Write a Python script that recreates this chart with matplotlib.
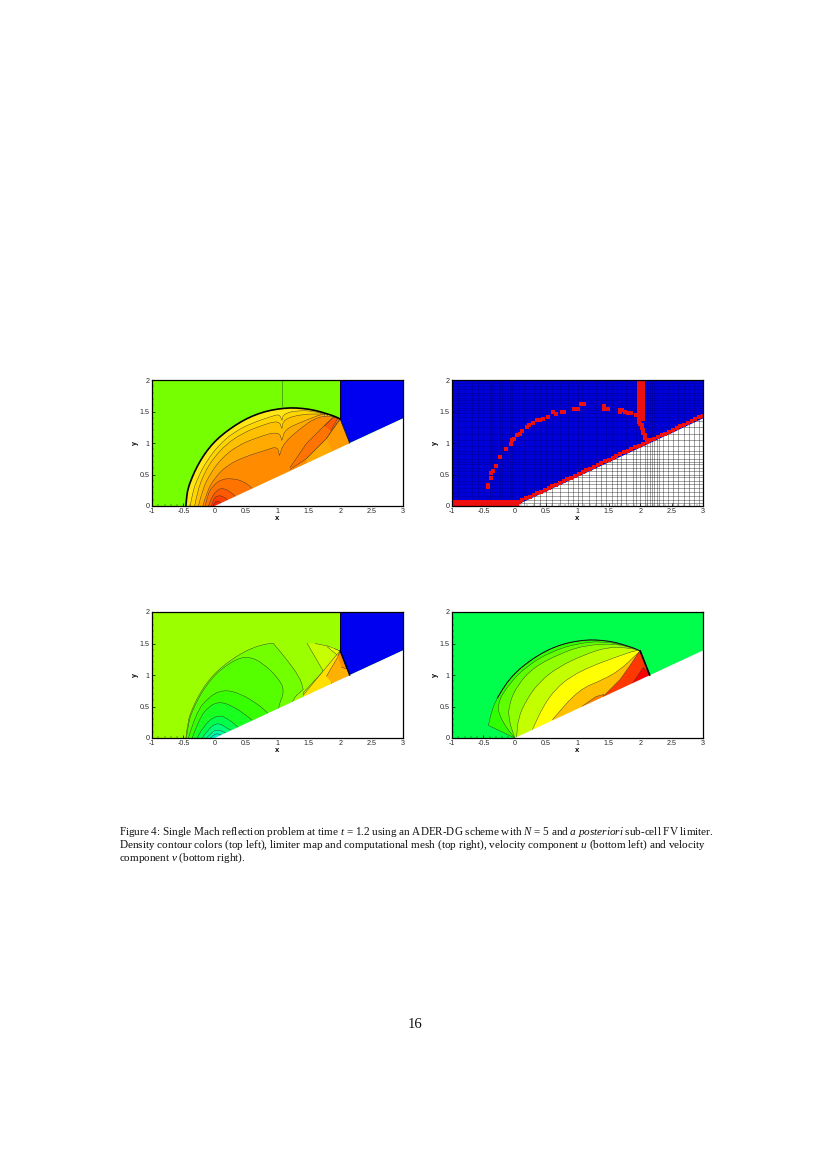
import matplotlib
matplotlib.use('Agg')
import matplotlib.pyplot as plt
from matplotlib.path import Path
from matplotlib.patches import PathPatch, Polygon
import numpy as np

plt.rcParams['font.family'] = ['Liberation Sans', 'DejaVu Sans']
plt.rcParams['mathtext.fontset'] = 'custom'
plt.rcParams['mathtext.rm'] = 'Liberation Serif'
plt.rcParams['mathtext.it'] = 'Liberation Serif:italic'
plt.rcParams['text.hinting'] = 'no_autohint'

W, H = 827, 1169

# shared geometry
shock_x = [-0.46, -0.45, -0.43, -0.36, -0.28, -0.18, -0.06, 0.08, 0.25, 0.42, 0.6, 0.8, 1.0, 1.2, 1.4, 1.6, 1.8, 1.92, 2.0, 2.0]
shock_y = [0.0, 0.12, 0.27, 0.46, 0.63, 0.8, 0.96, 1.1, 1.23, 1.34, 1.43, 1.5, 1.54, 1.56, 1.55, 1.52, 1.46, 1.42, 1.38, 1.38]
stem_x = [2.0, 2.15]
stem_y = [1.38, 1.0]
wedge_x = [0.0, 3.0, 3.0]
wedge_y = [0.0, 1.39, 0.0]
blue_x = [2.0, 3.0, 3.0, 2.15, 2.0]
blue_y = [2.0, 2.0, 1.39, 1.0, 1.38]

# top left, density: nested contours (x, y, colour)
rho_bg = '#76FF00'
rho_inside = '#FFE617'
rho_bands = [
    ([-0.39, -0.36, -0.27, -0.12, 0.07, 0.3, 0.6, 0.9, 1.03, 1.07, 1.07, 1.1, 1.35, 1.6, 1.8, 1.8, 1.8],
     [0.0, 0.2, 0.45, 0.73, 0.97, 1.17, 1.32, 1.42, 1.46, 1.36, 1.36, 1.47, 1.52, 1.5, 1.44, 1.44, 0.0], '#FFD500'),
    ([-0.32, -0.28, -0.17, -0.02, 0.18, 0.45, 0.75, 1.02, 1.07, 1.07, 1.1, 1.4, 1.7, 1.7, 1.7],
     [0.0, 0.22, 0.52, 0.76, 0.98, 1.16, 1.28, 1.36, 1.23, 1.23, 1.38, 1.46, 1.46, 1.46, 0.0], '#FFC000'),
    ([-0.26, -0.2, -0.08, 0.1, 0.35, 0.65, 1.02, 1.07, 1.07, 1.12, 1.4, 1.65, 1.75, 1.75, 1.75],
     [0.0, 0.25, 0.5, 0.75, 0.95, 1.08, 1.19, 1.04, 1.04, 1.22, 1.34, 1.44, 1.46, 1.46, 0.0], '#FFAA00'),
    ([-0.19, -0.13, 0.0, 0.2, 0.5, 0.8, 1.0, 1.03, 1.03, 1.1, 1.35, 1.6, 1.85, 2.0, 2.0, 2.15, 2.15, 2.15],
     [0.0, 0.22, 0.45, 0.65, 0.79, 0.88, 0.95, 0.8, 0.8, 1.0, 1.22, 1.4, 1.44, 1.38, 1.38, 1.0, 1.0, 0.0], '#FF8C00'),
    ([-0.15, -0.12, -0.02, 0.1, 0.25, 0.45, 0.6, 0.6, 0.6],
     [0.0, 0.18, 0.33, 0.42, 0.44, 0.4, 0.28, 0.28, 0.0], '#FF7300'),
    ([-0.1, -0.06, 0.03, 0.14, 0.28, 0.33, 0.33, 0.33],
     [0.0, 0.12, 0.25, 0.29, 0.2, 0.15, 0.15, 0.0], '#FF5A00'),
    ([-0.05, -0.03, 0.04, 0.14, 0.2, 0.2, 0.2],
     [0.0, 0.1, 0.17, 0.15, 0.1, 0.1, 0.0], '#FF4000'),
    ([-0.03, 0.0, 0.06, 0.1, 0.1, 0.1],
     [0.0, 0.07, 0.08, 0.05, 0.05, 0.0], '#FF2000'),
]
rho_patches = [
    ([1.2, 1.46, 1.78, 1.89, 2.0, 1.78, 1.46, 1.2],
     [0.61, 0.99, 1.31, 1.41, 1.39, 1.07, 0.75, 0.58], '#FF7300'),
    ([1.75, 1.89, 1.96, 1.85],
     [1.27, 1.41, 1.39, 1.2], '#FF5A00'),
    ([1.46, 1.78, 2.0, 2.15, 2.15, 1.46],
     [0.75, 1.07, 1.38, 1.0, 0.6, 0.6], '#FFAA00'),
    ([1.78, 2.0, 2.15, 1.87, 1.87],
     [1.07, 1.38, 1.0, 0.8, 0.87], '#FF9A00'),
]
rho_line_x = [1.07, 1.07]
rho_line_y = [2.0, 1.58]

# bottom left, velocity u
u_bg = '#9BFF00'
u_bands = [
    ([-0.46, -0.43, -0.36, -0.28, -0.18, -0.06, 0.08, 0.25, 0.42, 0.6, 0.8, 0.93, 0.93, 1.12, 1.36, 1.41, 1.41, 1.2, 1.2],
     [0.0, 0.27, 0.46, 0.63, 0.8, 0.96, 1.1, 1.23, 1.34, 1.43, 1.49, 1.505, 1.505, 1.28, 0.96, 0.77, 0.77, 0.585, 0.0], '#72FF00'),
    ([-0.45, -0.42, -0.35, -0.27, -0.17, -0.05, 0.09, 0.26, 0.4, 0.55, 0.75, 1.0, 1.12, 1.0, 1.0],
     [0.0, 0.26, 0.44, 0.61, 0.78, 0.94, 1.08, 1.2, 1.27, 1.29, 1.2, 0.97, 0.75, 0.48, 0.0], '#55FF00'),
    ([-0.42, -0.3, -0.1, 0.13, 0.4, 0.7, 0.85, 0.85, 0.85],
     [0.0, 0.4, 0.65, 0.77, 0.71, 0.53, 0.39, 0.39, 0.0], '#38FF00'),
    ([-0.36, -0.25, -0.1, 0.08, 0.3, 0.5, 0.6, 0.6, 0.6],
     [0.0, 0.3, 0.5, 0.58, 0.5, 0.36, 0.28, 0.28, 0.0], '#18FF20'),
    ([-0.28, -0.18, 0.05, 0.25, 0.37, 0.37, 0.37],
     [0.0, 0.2, 0.38, 0.28, 0.17, 0.17, 0.0], '#00FF48'),
    ([-0.2, -0.1, 0.05, 0.2, 0.27, 0.27, 0.27],
     [0.0, 0.15, 0.25, 0.15, 0.12, 0.12, 0.0], '#00FF78'),
    ([-0.13, -0.05, 0.05, 0.15, 0.18, 0.18, 0.18],
     [0.0, 0.09, 0.14, 0.09, 0.08, 0.08, 0.0], '#00FFA0'),
    ([-0.07, 0.0, 0.08, 0.1, 0.1, 0.1],
     [0.0, 0.07, 0.06, 0.05, 0.05, 0.0], '#00F0C8'),
]
u_patches = [
    ([1.47, 1.73, 1.41, 1.41, 2.15, 2.0, 1.8, 1.6],
     [1.505, 1.06, 0.72, 0.6, 0.6, 1.38, 1.46, 1.5], '#C8FF00'),
    ([1.79, 1.97, 2.0, 1.9],
     [1.45, 1.3, 1.38, 1.42], '#E8FF00'),
    ([1.41, 1.95, 2.0, 2.15, 1.41],
     [0.68, 1.33, 1.38, 1.0, 0.6], '#FFE000'),
    ([1.78, 1.97, 2.0, 2.15, 1.86, 1.86],
     [0.98, 1.3, 1.38, 1.0, 0.8, 0.88], '#FFB000'),
    ([1.96, 2.0, 2.1, 2.02],
     [1.3, 1.38, 1.1, 1.12], '#FF8C00'),
]

# bottom right, velocity v
v_bg = '#00FF4C'
v_bands = [
    ([0.0, 0.0, -0.42, -0.42, -0.36, -0.28, -0.18, -0.06, 0.08, 0.25, 0.42, 0.6, 0.8, 1.0, 1.2, 1.4, 1.6, 1.8, 2.0, 2.0, 2.15, 2.15],
     [0.0, 0.0, 0.2, 0.2, 0.46, 0.63, 0.8, 0.96, 1.1, 1.23, 1.34, 1.43, 1.5, 1.54, 1.56, 1.55, 1.52, 1.46, 1.38, 1.38, 1.0, 0.0], '#30FF00'),
    ([0.0, 0.0, -0.2, -0.29, -0.1, 0.2, 0.6, 1.0, 1.4, 1.8, 2.0, 2.0, 2.15, 2.15],
     [0.0, 0.0, 0.25, 0.53, 0.85, 1.15, 1.38, 1.5, 1.54, 1.46, 1.38, 1.38, 1.0, 0.0], '#60FF00'),
    ([0.0, 0.0, -0.1, -0.09, 0.05, 0.3, 0.7, 1.1, 1.6, 1.9, 2.0, 2.0, 2.15, 2.15],
     [0.0, 0.0, 0.3, 0.55, 0.85, 1.12, 1.33, 1.47, 1.5, 1.42, 1.38, 1.38, 1.0, 0.0], '#90FF00'),
    ([0.03, 0.03, 0.05, 0.18, 0.4, 0.7, 1.1, 1.5, 1.9, 2.0, 2.0, 2.15, 2.15],
     [0.0, 0.0, 0.3, 0.6, 0.9, 1.13, 1.32, 1.45, 1.42, 1.38, 1.38, 1.0, 0.0], '#C4FF00'),
    ([0.28, 0.28, 0.45, 0.65, 0.9, 1.2, 1.6, 1.95, 2.0, 2.0, 2.15, 2.15],
     [0.13, 0.13, 0.5, 0.78, 0.98, 1.13, 1.28, 1.4, 1.38, 1.38, 1.0, 0.0], '#FFFF00'),
    ([0.6, 0.6, 1.02, 1.42, 1.69, 1.91, 2.0, 2.0, 2.15, 2.15],
     [0.29, 0.29, 0.77, 0.93, 1.09, 1.3, 1.38, 1.38, 1.0, 0.0], '#FFC000'),
]
v_patches = [
    ([1.07, 1.3, 1.42, 1.42],
     [0.5, 0.66, 0.69, 0.5], '#FF8000'),
    ([1.41, 1.68, 1.83, 1.97, 2.0, 2.15, 2.15],
     [0.66, 0.93, 1.14, 1.35, 1.38, 1.0, 0.6], '#FF3800'),
    ([1.87, 2.05, 2.15, 2.15],
     [0.86, 1.12, 1.0, 0.85], '#FF0000'),
]

# top right, limiter map
mesh_x = [-0.9, -0.8, -0.68, -0.58, -0.5, -0.44, -0.4, -0.36, -0.32, -0.28, -0.24, -0.2, -0.16, -0.12, -0.08, -0.04, 0.0,
          0.07, 0.15, 0.3, 0.4, 0.5, 0.6, 0.72, 0.85, 0.93, 1.0, 1.07, 1.18, 1.3, 1.37, 1.45, 1.55, 1.63, 1.7, 1.78,
          1.88, 1.93, 2.0, 2.07, 2.11, 2.15, 2.19, 2.22, 2.26, 2.3, 2.37, 2.44, 2.52, 2.6, 2.7, 2.78, 2.85, 2.93]
mesh_y = [0.05, 0.1, 0.16, 0.22, 0.28, 0.35, 0.4, 0.46, 0.5, 0.55, 0.6, 0.66, 0.7, 0.74, 0.82, 0.87, 0.95, 1.05,
          1.15, 1.25, 1.35, 1.42, 1.48, 1.52, 1.56, 1.6, 1.64, 1.68, 1.72, 1.76, 1.8, 1.85, 1.9, 1.95]
floor_cell_x = [-0.98, -0.93, -0.88, -0.83, -0.78, -0.73, -0.68, -0.63, -0.58, -0.53, -0.48, -0.43, -0.38, -0.33,
                -0.28, -0.23, -0.18, -0.13, -0.08, -0.03, 0.02]
floor_cell_y = [0.05] * len(floor_cell_x)
ramp_cell_x = [0.06, 0.12, 0.18, 0.24, 0.3, 0.36, 0.42, 0.48, 0.54, 0.6, 0.66, 0.72, 0.78, 0.84, 0.9, 0.96, 1.02,
               1.08, 1.14, 1.2, 1.26, 1.32, 1.38, 1.44, 1.5, 1.56, 1.62, 1.68, 1.74, 1.8, 1.86, 1.92, 1.98, 2.04,
               2.1, 2.16, 2.22, 2.28, 2.34, 2.4, 2.46, 2.52, 2.58, 2.64, 2.7, 2.76, 2.82, 2.88, 2.94, 3.0]
ramp_cell_y = [0.06, 0.09, 0.12, 0.14, 0.17, 0.2, 0.23, 0.26, 0.28, 0.31, 0.34, 0.37, 0.4, 0.43, 0.45, 0.48, 0.51,
               0.54, 0.57, 0.59, 0.62, 0.65, 0.68, 0.71, 0.73, 0.76, 0.79, 0.82, 0.85, 0.87, 0.9, 0.93, 0.96, 0.99,
               1.01, 1.04, 1.07, 1.1, 1.13, 1.15, 1.18, 1.21, 1.24, 1.27, 1.29, 1.32, 1.35, 1.38, 1.41, 1.43]
front_cell_x = [-0.42, -0.42, -0.38, -0.38, -0.34, -0.3, -0.23, -0.14, -0.06, -0.04, -0.01, 0.03, 0.08, 0.12, 0.19,
                0.22, 0.29, 0.35, 0.4, 0.45, 0.53, 0.61, 0.65, 0.75, 0.78, 0.95, 1.01, 1.06, 1.1, 1.42, 1.42, 1.49,
                1.67, 1.71, 1.67, 1.75, 1.81, 1.86, 1.93]
front_cell_y = [0.3, 0.33, 0.45, 0.52, 0.55, 0.64, 0.77, 0.9, 0.99, 1.04, 1.07, 1.12, 1.15, 1.19, 1.25, 1.28, 1.31,
                1.36, 1.37, 1.38, 1.42, 1.49, 1.46, 1.49, 1.49, 1.54, 1.54, 1.62, 1.62, 1.58, 1.54, 1.54, 1.53, 1.53,
                1.49, 1.49, 1.48, 1.47, 1.45]
column_x = [1.98, 2.02, 2.05]
column_y = [1.38, 1.43, 1.48, 1.53, 1.58, 1.63, 1.68, 1.73, 1.78, 1.83, 1.88, 1.93, 1.98]
stem_cell_x = [1.98, 2.0, 2.02, 2.03, 2.05, 2.05, 2.07, 2.08, 2.1, 2.1, 2.13]
stem_cell_y = [1.34, 1.3, 1.28, 1.24, 1.2, 1.16, 1.12, 1.08, 1.05, 1.02, 1.03]

xtick_vals = [-1, -0.5, 0, 0.5, 1, 1.5, 2, 2.5, 3]
xtick_text = ['-1', '-0.5', '0', '0.5', '1', '1.5', '2', '2.5', '3']
ytick_vals = [0, 0.5, 1, 1.5, 2]
ytick_text = ['0', '0.5', '1', '1.5', '2']

caption = [
    r'Figure 4: Single Mach reflection problem at time $t$ = 1.2 using an ADER-DG scheme with $N$ = 5 and $a\ posteriori$ sub-cell FV limiter.',
    r'Density contour colors (top left), limiter map and computational mesh (top right), velocity component $u$ (bottom left) and velocity',
    r'component $v$ (bottom right).',
]


def make_axes(left, top):
    ax = fig.add_axes([left / W, 1 - (top + 126) / H, 251 / W, 126 / H])
    ax.set_xlim(-1, 3)
    ax.set_ylim(0, 2)
    ax.set_xticks(xtick_vals, xtick_text)
    ax.set_yticks(ytick_vals, ytick_text)
    ax.set_xticks(np.arange(-1, 3.01, 0.1), minor=True)
    ax.set_yticks(np.arange(0, 2.01, 0.1), minor=True)
    ax.tick_params(which='major', direction='in', length=2.5, width=0.5, labelsize=5.1, pad=1.5, labelcolor='#222222')
    ax.tick_params(which='minor', direction='in', length=1.2, width=0.25)
    ax.set_xlabel('x', fontsize=5.5, fontweight='bold', labelpad=0.3)
    ax.set_ylabel('y', fontsize=5.5, fontweight='bold', labelpad=0.5)
    for s in ax.spines.values():
        s.set_linewidth(0.9)
        s.set_zorder(10)
    return ax


def smooth_path(bx, by):
    # quadratic segments through the midpoints, the read points act as controls
    pts = np.column_stack([bx, by])
    verts = [pts[0]]
    codes = [Path.MOVETO]
    for i in range(1, len(pts) - 1):
        verts += [pts[i], (pts[i] + pts[i + 1]) / 2]
        codes += [Path.CURVE3, Path.CURVE3]
    verts.append(pts[-1])
    codes.append(Path.LINETO)
    return Path(verts, codes)


def draw_bands(ax, bands, patches):
    for bx, by, col in bands:
        ax.add_patch(PathPatch(smooth_path(bx, by), fc=col, ec='#303030', lw=0.3, zorder=2))
    for bx, by, col in patches:
        ax.fill(bx, by, color=col, lw=0, zorder=2)
        ax.plot(bx, by, color='#303030', lw=0.3, zorder=2)


def draw_open(ax, bx, by, **kw):
    ax.add_patch(PathPatch(smooth_path(bx, by), fc='none', **kw))


fig = plt.figure(figsize=(W / 100, H / 100), dpi=100)

# density
ax = make_axes(152, 380)
ax.set_facecolor(rho_bg)
ax.add_patch(PathPatch(smooth_path(shock_x + [2.15, 2.15, 2.15], shock_y + [1.0, 1.0, 0.0]), fc=rho_inside, lw=0, zorder=1))
draw_bands(ax, rho_bands, rho_patches)
ax.plot(rho_line_x, rho_line_y, color='#2a6a10', lw=0.4, zorder=3)
ax.fill(blue_x, blue_y, color='#0000F0', lw=0, zorder=3)
ax.fill(wedge_x, wedge_y, color='white', lw=0, zorder=4)
draw_open(ax, shock_x, shock_y, ec='black', lw=1.2, zorder=5)
ax.plot(stem_x, stem_y, color='#222222', lw=0.6, zorder=5)
ax.plot([2, 2], [1.38, 2], color='black', lw=0.7, zorder=5)

# limiter map and mesh
ax = make_axes(452, 380)
ax.set_facecolor('#0000D8')
ax.fill(wedge_x, wedge_y, color='white', lw=0, zorder=1)
ax.vlines(mesh_x, 0, 2, color='black', lw=0.45, alpha=0.22, zorder=2)
ax.hlines(mesh_y, -1, 3, color='black', lw=0.45, alpha=0.22, zorder=2)
wedge_clip = Polygon(np.column_stack([wedge_x, wedge_y]), transform=ax.transData)
for lines in [ax.vlines(mesh_x, 0, 2, color='black', lw=0.45, alpha=0.4, zorder=2),
              ax.hlines(mesh_y, -1, 3, color='black', lw=0.45, alpha=0.4, zorder=2)]:
    lines.set_clip_path(wedge_clip)
cell = dict(marker='s', color='#EE1010', linewidths=0, zorder=3)
ax.scatter(floor_cell_x, floor_cell_y, s=16, **cell)
ax.scatter(ramp_cell_x, ramp_cell_y, s=12, **cell)
ax.scatter(front_cell_x, front_cell_y, s=5, **cell)
cx, cy = np.meshgrid(column_x, column_y)
ax.scatter(cx.ravel(), cy.ravel(), s=8, **cell)
ax.scatter(stem_cell_x, stem_cell_y, s=10, **cell)

# velocity u
ax = make_axes(152, 612)
ax.set_facecolor(u_bg)
draw_bands(ax, u_bands, u_patches)
ax.fill(blue_x, blue_y, color='#0000F0', lw=0, zorder=3)
ax.fill(wedge_x, wedge_y, color='white', lw=0, zorder=4)
ax.plot(stem_x, stem_y, color='black', lw=1.0, zorder=5)
ax.plot([2, 2], [1.38, 2], color='black', lw=0.7, zorder=5)

# velocity v
ax = make_axes(452, 612)
ax.set_facecolor(v_bg)
draw_bands(ax, v_bands, v_patches)
ax.fill(wedge_x, wedge_y, color='white', lw=0, zorder=4)
draw_open(ax, shock_x[4:], shock_y[4:], ec='#111111', lw=0.7, zorder=5)
ax.plot(stem_x, stem_y, color='black', lw=1.2, zorder=5)

# caption and page number
for line, ypx, fs in zip(caption, [832, 845, 858], [8.0, 8.15, 8.0]):
    fig.text(119 / W, 1 - ypx / H, line, family=['Liberation Serif', 'DejaVu Serif'], fontsize=fs, va='center', color='#111111')
fig.text(415 / W, 1 - 1025 / H, '16', family=['Liberation Serif', 'DejaVu Serif'], fontsize=10.5, ha='center', va='center', color='#111111')

fig.savefig('out.png', dpi=100)
